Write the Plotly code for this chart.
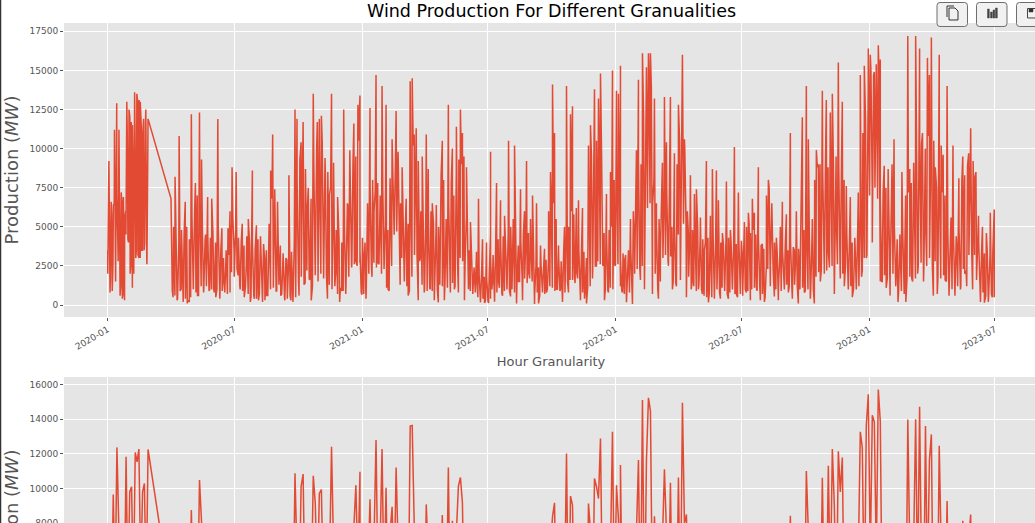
import pandas as pd
import plotly.graph_objects as go

# figure runs past the window on the right and bottom, like the cropped screenshot
W = 1038
H = 680
PANEL_LEFT = 64
TOP_PANEL = (23, 317)
BOTTOM_PANEL = (377, 671)

LINE = "#E24A33"
PANEL = "#E5E5E5"
TEXT = "#555555"
FONT = "DejaVu Sans"

TITLE = "Wind Production For Different Granualities"
Y_TITLE = "Production (<i>MW</i>)"
X_TITLE = "Hour Granularity"

tick_dates = ["2020-01-01", "2020-07-01", "2021-01-01", "2021-07-01", "2022-01-01",
              "2022-07-01", "2023-01-01", "2023-07-01"]
tick_labels = ["2020-01", "2020-07", "2021-01", "2021-07", "2022-01", "2022-07", "2023-01", "2023-07"]
hour_ticks = [0, 2500, 5000, 7500, 10000, 12500, 15000, 17500]
day_ticks = [0, 2000, 4000, 6000, 8000, 10000, 12000, 14000, 16000]

# start and end date of each stretch
span_dates = [("2020-01-01", "2020-02-28"), ("2020-04-01", "2020-06-25"), ("2020-06-25", "2020-12-29"),
              ("2020-12-29", "2021-07-05"), ("2021-07-05", "2022-01-08"), ("2022-01-08", "2022-07-14"),
              ("2022-07-14", "2023-01-17"), ("2023-01-17", "2023-06-30")]

# tall spikes and deep dips of the hourly line
hour_a = [3500, 9200, 800, 6600, 900, 6400, 11200, 1500, 12900, 4000, 11200, 600, 7200, 400, 6900, 300,
          6000, 13000, 4200, 12500, 2000, 11700, 1100, 6800, 13600, 3000, 13500, 3200, 13100, 3000,
          11300, 3500, 11900, 4000, 12500, 2600, 11900]
hour_b = [6800, 500, 8200, 300, 10800, 1000, 200, 6600, 100, 200, 12200, 1500, 7800, 600, 12300, 9300,
          800, 4500, 6900, 1000, 6800, 1000, 500, 11900, 400, 4900, 1500, 3000, 4900, 6000]
hour_c = [800, 8800, 3500, 8500, 1900, 1000, 5200, 500, 2500, 5500, 200, 8600, 400, 5100, 300, 4400,
          200, 3000, 600, 3300, 8600, 10900, 7200, 900, 3200, 600, 2300, 300, 2900, 8300, 300, 200,
          12500, 11900, 600, 10400, 11700, 1400, 5900, 1700, 300, 13500, 2100, 11700, 11900, 12100,
          2000, 8200, 400, 7000, 13500, 9100, 2000, 6900, 200, 900, 12500, 700, 6400, 9900, 2500,
          11600, 2800, 12800, 13400]
hour_d = [4000, 650, 2800, 400, 5000, 12600, 1800, 6000, 14700, 2700, 7000, 14000, 2300, 12800, 1000,
          8100, 10600, 4900, 12400, 9700, 1300, 8800, 2500, 6800, 600, 14300, 14500, 10900, 11300, 300,
          3000, 9500, 800, 10900, 8700, 1000, 6500, 300, 6400, 170, 6000, 10500, 300, 4000, 12800, 800,
          10000, 1000, 11400, 800, 12500, 11000, 300, 5700, 1000, 5300, 700, 1500, 3400, 6800, 170,
          4200, 130, 4000, 130, 4500]
hour_e = [9800, 1500, 210, 7800, 1500, 6700, 600, 5700, 1500, 10500, 550, 3000, 10200, 100, 1500, 7400,
          300, 6000, 9200, 2200, 5500, 7000, 60, 6500, 100, 3800, 800, 3600, 800, 3000, 8500, 14100,
          11000, 1000, 3800, 1000, 200, 5000, 14000, 800, 12200, 12700, 1800, 2200, 6700, 300, 6200,
          400, 100, 10200, 11500, 1700, 13800, 2500, 13200, 14800, 3000, 300, 7100, 800, 8500, 15000,
          2600, 13700, 13500, 1200]
hour_f = [15300, 800, 2800, 170, 3500, 5500, 60, 4000, 9900, 14400, 1600, 16100, 1000, 15200, 16100,
          16100, 700, 13200, 6500, 400, 3400, 9100, 13300, 10400, 2500, 13300, 1000, 9700, 1200, 12800,
          1600, 16000, 10600, 500, 4500, 8300, 1600, 7100, 7400, 1000, 5600, 700, 3500, 9200, 170, 5700,
          8700, 400, 8600, 6700, 400, 4600, 1000, 7900, 400, 4800, 1000, 10100, 700, 7200, 700, 3100,
          5300, 800, 5900, 400]
hour_g = [300, 6800, 5900, 1100, 8800, 300, 3900, 200, 2500, 8000, 1200, 3500, 550, 4300, 300, 5000,
          6600, 1000, 5800, 800, 11000, 400, 3500, 6000, 100, 3000, 12000, 800, 14000, 10600, 400, 5500,
          100, 9900, 9000, 1500, 13700, 2000, 13100, 3500, 12300, 13500, 700, 5500, 15500, 1700, 13000,
          1200, 7600, 1000, 6900, 500, 2900, 1000, 7200, 14700, 2200, 15300, 3000, 16400, 16000, 4000,
          14900, 15400, 16600, 1500]
hour_h = [15700, 1500, 8900, 1100, 8700, 600, 9000, 10600, 1500, 200, 4500, 8500, 900, 200, 17200, 8700,
          1700, 9100, 17200, 2000, 16400, 10300, 1500, 5500, 15800, 14700, 17100, 600, 8800, 700, 16000,
          10200, 9600, 1600, 14000, 600, 5600, 10200, 600, 3500, 8100, 1200, 9500, 2000, 1200, 9700,
          11300, 1000, 8100, 1600, 5700, 200, 5000, 150, 4600, 200, 5900, 500, 6100]

# the dense body of the hourly line, high and low in turn
body_a = [2000, 6500, 1500, 5800, 2600, 6500, 2200, 7000, 2800, 8000, 1200, 6500, 800, 5500, 4500, 11000,
          4000, 12000, 2800, 11500, 2000, 11000, 3500, 13000, 3000, 13000, 3500, 11000, 3500, 11500, 3000, 11900]
body_b = [6800, 900, 5000, 600, 3800, 400, 4000, 900, 4800, 700, 4500, 400, 5000, 300, 4200, 500, 5500, 1000,
          6000, 800, 7000, 600, 6500, 1200, 4500, 1000, 4200, 1200, 4600, 900, 4300, 1000, 4500, 800, 4000, 1000,
          5000, 700, 3500, 900, 3000, 800, 3500, 700, 3200, 900]
body_c = [5300, 2100, 5600, 1800, 4800, 2300, 4300, 1200, 4000, 900, 3800, 1100, 4400, 700, 3900, 500, 4100, 600,
          3600, 400, 4200, 700, 3700, 500, 3900, 300, 3500, 600, 5200, 1000, 6800, 1100, 7400, 900, 6600, 1300,
          3800, 700, 3300, 500, 3000, 400, 2900, 600, 3400, 300, 4000, 500, 8000, 1500, 9300, 1800, 9000, 1300,
          8700, 2200, 7500, 1600, 6800, 1200, 8800, 1900, 10000, 1500, 9800, 2000, 10400, 1700, 9400, 1900,
          8500, 1300, 7600, 1000, 6800, 1200, 4800, 700, 4300, 1100, 4000, 900, 4500, 1200, 6500, 1800, 8300, 2400,
          9000, 2600, 9500, 2500, 10500, 2700]
body_d = [3500, 800, 4300, 700, 4000, 1000, 6500, 2000, 7600, 2500, 8000, 2700, 7200, 2400, 7800, 2600, 7000, 2000,
          7500, 2300, 5200, 1100, 4800, 900, 6500, 2500, 8800, 4500, 9300, 4700, 9800, 4800, 6500, 3000, 5800, 1500,
          5500, 1200, 5200, 900, 7000, 1800, 10200, 3200, 10500, 3300, 9200, 2800, 6000, 1300, 5500, 1000, 6200, 900,
          5800, 1100, 6000, 900, 5200, 1200, 4800, 1000, 5000, 1300, 8300, 1200, 8000, 1300, 5500, 1100, 6500, 1000,
          7800, 1400, 7000, 1200, 8500, 2500, 9300, 3000, 9000, 2800, 9500, 3100, 8800, 2500, 3500, 900, 2800, 700,
          2400, 800, 2000, 500, 1900, 300, 2200, 400, 1800, 300, 1700, 200, 2000, 400]
body_e = [3000, 1000, 3200, 900, 3500, 800, 4200, 1100, 4000, 700, 4400, 900, 3800, 1000, 4600, 900, 5000, 1000,
          5500, 800, 4200, 1700, 3800, 1500, 4000, 1800, 4500, 1700, 4200, 1400, 4600, 1700, 3900, 1500, 2800, 700,
          2500, 800, 2400, 600, 2600, 900, 2300, 700, 2900, 1000, 6000, 1200, 7000, 1100, 6500, 900, 5500, 1000,
          3000, 900, 2800, 1000, 3500, 800, 4800, 1500, 5000, 1600, 6000, 1600, 5800, 1400, 6200, 1700, 3500, 1000,
          3200, 800, 3400, 900, 3000, 1100, 7000, 1200, 9500, 2200, 10200, 2500, 10500, 2800, 11000, 2600, 9800, 2500,
          4600, 1000, 4400, 900, 4800, 1100, 5000, 1000, 8000, 2500, 9000, 2600, 9500, 2000]
body_f = [3000, 900, 3300, 700, 3200, 1000, 3500, 800, 3600, 900, 6000, 2000, 8000, 2300, 9300, 2400, 9000, 2500,
          12000, 5500, 15000, 6200, 15500, 6500, 14000, 6400, 8000, 2000, 5000, 1000, 5500, 1500, 7000, 3000,
          7500, 3200, 7200, 2800, 7000, 3100, 5000, 1500, 5200, 1400, 9000, 4500, 10400, 5000, 10800, 5200,
          10000, 5000, 6000, 1800, 4600, 1000, 4800, 1200, 4500, 900, 5000, 1300, 4400, 1000, 4200, 600, 4000, 500,
          4300, 700, 4100, 500, 4500, 600, 4200, 1000, 4300, 800, 4000, 1100, 3900, 900, 4100, 700, 4300, 800,
          4000, 1000, 3800, 700, 3900, 500, 4200, 800, 4100, 600, 4500, 1000, 5000, 900, 5200, 1000]
body_g = [4600, 1000, 4800, 1100, 4500, 900, 4300, 1200, 3800, 700, 3600, 500, 7000, 2300, 7500, 2600, 6500, 2200,
          4000, 1000, 3400, 1200, 3200, 900, 3500, 1000, 3700, 1300, 3500, 1200, 4000, 1100, 3700, 1300, 3300, 1200,
          3600, 1000, 4600, 1100, 4800, 900, 4400, 1000, 4600, 800, 4200, 1000, 8000, 1800, 8800, 2100, 9000, 2300,
          8500, 2000, 8700, 2200, 8800, 2400, 9400, 2500, 9000, 2300, 9500, 2600, 8800, 2200, 9000, 2000, 8000, 2500,
          4500, 1300, 4200, 1200, 4000, 1000, 4300, 1300, 4200, 1200, 6000, 1800, 11000, 3000, 11800, 3200,
          14000, 7000, 15000, 7300, 14700, 7500, 15200, 6800, 15000, 5000]
body_h = [7000, 1500, 7200, 1900, 7500, 1700, 6800, 1800, 7200, 2000, 5000, 1200, 4200, 800, 4000, 900, 4500, 700,
          7000, 1700, 7200, 1800, 7800, 1500, 7000, 1700, 10000, 2500, 10600, 2700, 11000, 2400, 10000, 2500,
          10800, 3000, 10200, 2500, 10500, 2800, 7500, 1800, 7800, 1700, 7200, 1900, 7000, 1500, 4600, 1200,
          4800, 1000, 4500, 1300, 4400, 1200, 4800, 1000, 8000, 2300, 8300, 2200, 8900, 3200, 9000, 3400, 9200, 3200,
          8500, 3000, 3800, 1000, 3400, 800, 3300, 600, 3500, 500, 3200, 700, 3400, 500]

day_a = [3500, 6500, 3000, 9650, 4000, 12370, 7900, 2500, 5500, 3000, 11830, 4000, 9800, 10100, 4000,
         12080, 11540, 12270, 5000, 9800, 10290, 4000, 12250]
day_b = [3500, 2000, 6500, 1500, 7500, 2000, 1000, 5500, 1000, 3000, 8750, 3000, 6000, 2500, 10480, 8080,
         2000, 4500, 5500, 2000, 5500, 2000, 3000, 7000, 2000, 4000, 2000, 3500, 4000, 5000]
day_c = [5000, 2000, 6000, 1500, 4500, 1000, 3500, 1200, 3500, 1500, 4000, 800, 4500, 1000, 3500, 800,
         3000, 1000, 2800, 1500, 5500, 7500, 3000, 1000, 2500, 1000, 2200, 800, 2500, 5500, 1000, 2000,
         10870, 6000, 3000, 10100, 10830, 3000, 6000, 2000, 3500, 10730, 9130, 4000, 9710, 9940, 4000,
         6000, 2000, 5500, 12400, 6500, 3000, 5500, 1500, 4000, 7800, 2500, 6000, 7500, 3500, 7800,
         10190, 5000, 10960]
day_d = [3000, 1500, 3000, 1200, 5000, 9380, 3000, 7000, 12790, 4000, 6500, 12270, 4000, 10040, 2000, 7500,
         8940, 4500, 11210, 6500, 2000, 6500, 3000, 5500, 2000, 13600, 13630, 8000, 6500, 1000, 3000,
         6500, 1500, 9080, 6000, 1500, 5000, 1000, 5000, 1000, 5000, 8460, 1500, 3000, 11210, 1500, 8130,
         2000, 7500, 10130, 10630, 9170, 1500, 5000, 1500, 4500, 1500, 2500, 3000, 5500, 1000, 3500, 800,
         3500, 800, 3500]
day_e = [7000, 1500, 800, 6000, 1500, 5000, 1000, 4500, 1500, 7500, 1000, 2500, 7500, 800, 1500, 6000,
         1000, 5000, 7000, 2000, 4500, 5500, 800, 5000, 800, 3000, 1000, 3000, 1000, 2500, 6500, 8370,
         9170, 1500, 3000, 1000, 1000, 4000, 12020, 1500, 9560, 9040, 2000, 2000, 5500, 1000, 5000, 1000,
         1000, 9130, 7500, 2000, 10580, 10100, 9420, 12880, 3000, 1000, 5500, 1500, 6500, 13270, 3000,
         10190, 8200, 2500]
day_f = [11350, 1500, 2500, 1000, 3000, 4500, 800, 3500, 7500, 11640, 2000, 15100, 2000, 11640, 15230,
         14460, 3000, 8400, 5000, 1500, 3000, 7500, 11100, 7500, 3000, 10330, 2000, 7500, 2000, 10630,
         2500, 14940, 8000, 8500, 3500, 6500, 2000, 5500, 6000, 1500, 4500, 1500, 3000, 7500, 1000, 4500,
         7000, 1500, 7000, 5500, 1000, 4000, 1500, 6500, 1000, 4000, 1500, 7800, 1500, 6000, 1500, 3000,
         4500, 1500, 5000, 1000]
day_g = [1000, 5500, 5000, 1500, 6500, 1000, 3000, 1000, 2500, 6500, 1500, 3000, 1000, 3500, 1000, 4000,
         5500, 1500, 5000, 1500, 8420, 1000, 3000, 5000, 800, 3000, 7500, 1500, 11000, 7500, 1000, 4500,
         800, 7000, 6500, 2000, 10620, 3000, 3000, 11310, 4000, 12270, 9000, 2500, 12150, 9800, 11790,
         2000, 6000, 1500, 5500, 1000, 2500, 2000, 6000, 13270, 12350, 3000, 13650, 15440, 6000, 14230,
         13850, 6000, 15710, 13850]
day_h = [13850, 2000, 6500, 2000, 6500, 1500, 6500, 7800, 2000, 800, 3500, 6500, 1500, 800, 13980, 6500,
         2000, 7000, 14000, 4000, 14710, 5000, 1500, 13600, 4000, 11640, 13120, 1500, 6500, 1500, 12460,
         6500, 6500, 2000, 9270, 1500, 4500, 7500, 1500, 3000, 6000, 2000, 8130, 2500, 2000, 7000, 8500,
         2000, 6500, 2000, 4500, 500, 4000, 500, 3500, 500, 4500, 1000, 4000]


def build_series(*layers):
    # each layer holds one list per stretch; points of a stretch are merged in date order
    dates, values = [], []
    for i, (start, end) in enumerate(span_dates):
        points = []
        for layer in layers:
            vals = layer[i]
            points.extend(zip(pd.date_range(start, end, periods=len(vals)), vals))
        points.sort(key=lambda p: p[0])
        dates.extend(p[0] for p in points)
        values.extend(p[1] for p in points)
    return dates, values


hour_x, hour_y = build_series([hour_a, hour_b, hour_c, hour_d, hour_e, hour_f, hour_g, hour_h],
                              [body_a, body_b, body_c, body_d, body_e, body_f, body_g, body_h])
day_x, day_y = build_series([day_a, day_b, day_c, day_d, day_e, day_f, day_g, day_h])

fig = go.Figure()
fig.add_trace(go.Scatter(x=hour_x, y=hour_y, mode="lines", line=dict(color=LINE, width=1.5),
                         xaxis="x", yaxis="y", hoverinfo="skip"))
fig.add_trace(go.Scatter(x=day_x, y=day_y, mode="lines", line=dict(color=LINE, width=1.5),
                         xaxis="x2", yaxis="y2", hoverinfo="skip"))


def paper_x(px):
    return px / W


def paper_y(px):
    return 1 - px / H


def pt(px, py):
    return f"{paper_x(px):.5f},{paper_y(py):.5f}"


def rounded_box(x0, y0, x1, y1, r=3):
    return (f"M{pt(x0 + r, y0)} L{pt(x1 - r, y0)} Q{pt(x1, y0)} {pt(x1, y0 + r)} L{pt(x1, y1 - r)} "
            f"Q{pt(x1, y1)} {pt(x1 - r, y1)} L{pt(x0 + r, y1)} Q{pt(x0, y1)} {pt(x0, y1 - r)} "
            f"L{pt(x0, y0 + r)} Q{pt(x0, y0)} {pt(x0 + r, y0)} Z")


def polyline(points, close=False):
    d = "M" + " L".join(pt(*p) for p in points)
    return d + (" Z" if close else "")


shapes = []
# notebook toolbar buttons over the top right corner
for x0, x1 in [(937, 967.5), (976.5, 1007), (1016.5, 1047)]:
    shapes.append(dict(type="path", path=rounded_box(x0, 2.5, x1, 26.5), xref="paper", yref="paper",
                       fillcolor="#F1F1F1", line=dict(color="#6E6E6E", width=1)))
# copy icon
shapes.append(dict(type="path", path=polyline([(947, 17), (947, 6), (954, 6)]), xref="paper", yref="paper",
                   line=dict(color="#333333", width=1)))
shapes.append(dict(type="path", path=polyline([(949, 8), (955, 8), (958, 11), (958, 20), (949, 20)], True),
                   xref="paper", yref="paper", line=dict(color="#333333", width=1)))
# bars icon
for bx, top in [(987.5, 9), (990.5, 12), (993, 10), (995.5, 8)]:
    shapes.append(dict(type="path", path=polyline([(bx, 18), (bx, top), (bx + 1.8, top), (bx + 1.8, 18)], True),
                       xref="paper", yref="paper", fillcolor="#444444", line=dict(color="#444444", width=0.5)))
# window icon
shapes.append(dict(type="path", path=polyline([(1027.5, 8.5), (1040, 8.5), (1040, 18), (1027.5, 18)], True),
                   xref="paper", yref="paper", line=dict(color="#444444", width=1)))
shapes.append(dict(type="path", path=polyline([(1029, 9), (1033, 9), (1033, 12), (1029, 12)], True),
                   xref="paper", yref="paper", fillcolor="#333333", line=dict(color="#333333", width=0.5)))
# dark edge of the screenshot on the left
shapes.append(dict(type="line", x0=paper_x(0.5), x1=paper_x(0.5), y0=0, y1=1, xref="paper", yref="paper",
                   line=dict(color="#333333", width=1.5)))

axis_style = dict(showgrid=True, gridcolor="white", gridwidth=1, zeroline=False, showline=False,
                  ticks="outside", ticklen=3, tickwidth=1, tickcolor=TEXT,
                  tickfont=dict(family=FONT, size=9, color=TEXT))
x_range = ["2019-10-30", "2023-09-01"]

fig.update_layout(
    width=W, height=H, margin=dict(l=0, r=0, t=0, b=0), showlegend=False,
    paper_bgcolor="white", plot_bgcolor=PANEL, font=dict(family=FONT, color=TEXT),
    xaxis=dict(domain=[paper_x(PANEL_LEFT), 1], range=x_range, tickvals=tick_dates, ticktext=tick_labels,
               tickangle=-30, title=dict(text=X_TITLE, font=dict(size=13, color=TEXT), standoff=6),
               anchor="y", **axis_style),
    yaxis=dict(domain=[paper_y(TOP_PANEL[1]), paper_y(TOP_PANEL[0])], range=[-767, 18030], tickvals=hour_ticks,
               tickformat="d", title=dict(text=Y_TITLE, font=dict(size=18, color=TEXT), standoff=6),
               anchor="x", **axis_style),
    xaxis2=dict(domain=[paper_x(PANEL_LEFT), 1], range=x_range, tickvals=tick_dates, showticklabels=False,
                anchor="y2", **{**axis_style, "ticks": ""}),
    yaxis2=dict(domain=[paper_y(BOTTOM_PANEL[1]), paper_y(BOTTOM_PANEL[0])], range=[-537, 16433],
                tickvals=day_ticks, tickformat="d", title=dict(text=Y_TITLE, font=dict(size=18, color=TEXT), standoff=6),
                anchor="x2", **axis_style),
    shapes=shapes,
    annotations=[dict(text=TITLE, xref="paper", yref="paper", x=paper_x(551), y=paper_y(11), xanchor="center",
                      yanchor="middle", showarrow=False, font=dict(family=FONT, size=17.5, color="black"))],
)

# the screenshot cuts the figure off, so nothing should scroll
no_scroll = "document.body.style.margin='0';document.documentElement.style.overflow='hidden';document.body.style.overflow='hidden';"
fig.write_html("out.html", config=dict(displayModeBar=False), post_script=no_scroll)
